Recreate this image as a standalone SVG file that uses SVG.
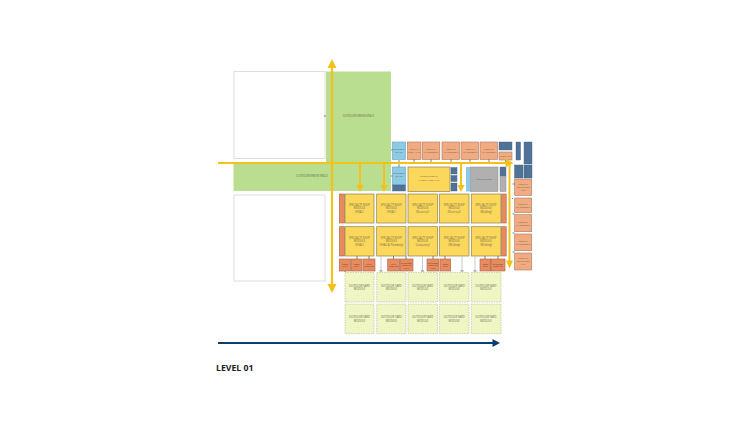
<svg xmlns="http://www.w3.org/2000/svg" width="750" height="423" viewBox="0 0 750 423">
<defs>
<style>
text{font-family:"Open Sans","Noto Sans","Liberation Sans",sans-serif;font-size:2.700px;fill:#6a6a48;text-anchor:middle}
#top-row text,#second-row text,#right-col text{font-size:2.400px}
#small-units text{font-size:2.100px;fill:#5a3a28}
.w{fill:#fff;stroke:#ddd;stroke-width:1}
.g{fill:#b9de8f}
.b{fill:#8ccbe8;stroke:#6d9fb5;stroke-width:.6}
.o{fill:#f2ab80;stroke:#a57a60;stroke-width:.6}
.os{fill:#e88a5e;stroke:#a0654a;stroke-width:.6}
.y{fill:#fbd75b;stroke:#8d8050;stroke-width:.7}
.n{fill:#4f7296;stroke:#3f5f80;stroke-width:.4}
.gr{fill:#b0b0b0;stroke:#888;stroke-width:.5}
.h{fill:#f0f5c4;stroke:#bcc0a0;stroke-width:.7;stroke-dasharray:1.5 1}
.a{stroke:#f2c21a;fill:none}
.ah{fill:#f2c21a}
.t{stroke:#333;stroke-width:.6;fill:none}
.l{stroke:#bbb;stroke-width:.8;fill:none}
</style>
</defs>
<rect width="750" height="423" fill="#fff"/>
<g id="white-1"><rect class="w" x="234" y="71.500" width="91" height="87"/></g>
<g id="white-2"><rect class="w" x="234" y="195" width="91" height="86"/></g>
<g id="green-1"><rect class="g" x="326" y="71.500" width="65" height="91"/><text x="358.500" y="117">OUTDOOR GREEN SPACE</text></g>
<g id="green-2"><rect class="g" x="233.500" y="163" width="157.500" height="28"/><text x="312" y="177">OUTDOOR GREEN SPACE</text></g>

<g id="top-row">
<g id="n1"><rect class="b" x="392.500" y="142" width="13" height="17.500"/><text x="399" y="150"><tspan x="399">OUTDOOR</tspan><tspan x="399" dy="3.200">SPACE</tspan></text></g>
<g id="n2"><rect class="o" x="407.500" y="142" width="13.500" height="17.500"/><text x="414" y="150"><tspan x="414">DIGITAL</tspan><tspan x="414" dy="3.200">MEDIA LAB</tspan></text></g>
<g id="n3"><rect class="o" x="422.300" y="142" width="17.500" height="17.500"/><text x="431" y="150"><tspan x="431">MEDIUM</tspan><tspan x="431" dy="3.200">CLASSROOM</tspan></text></g>
<g id="n4"><rect class="o" x="442" y="142" width="17.500" height="17.500"/><text x="451" y="150"><tspan x="451">MEDIUM</tspan><tspan x="451" dy="3.200">CLASSROOM</tspan></text></g>
<g id="n5"><rect class="o" x="461" y="142" width="17.500" height="17.500"/><text x="470" y="150"><tspan x="470">MEDIUM</tspan><tspan x="470" dy="3.200">CLASSROOM</tspan></text></g>
<g id="n6"><rect class="o" x="480" y="142" width="17.500" height="17.500"/><text x="489" y="150"><tspan x="489">MEDIUM</tspan><tspan x="489" dy="3.200">CLASSROOM</tspan></text></g>
<g id="n7"><rect class="n" x="499" y="142" width="13" height="8"/></g>
<g id="n8"><rect class="o" x="499" y="152" width="13" height="8"/><text x="505.500" y="157">STORAGE</text></g>
</g>

<g id="second-row">
<g id="n9"><rect class="b" x="392.500" y="167" width="13" height="18"/><text x="399" y="174"><tspan x="399">OUTDOOR</tspan><tspan x="399" dy="3.200">SPACE</tspan></text></g>
<g id="n10"><rect class="n" x="392.500" y="185" width="13" height="6"/></g>
<g id="n11"><rect class="y" x="408" y="167" width="42" height="24.500"/><text x="429" y="177"><tspan x="429">INSTRUCTIONAL</tspan><tspan x="429" dy="3.500">FABRICATION LAB</tspan></text></g>
<g id="n12"><rect class="n" x="451" y="167.500" width="6" height="6.500"/></g>
<g id="n13"><rect class="n" x="451" y="175.500" width="6" height="6"/></g>
<g id="n14"><rect class="n" x="451" y="183" width="6" height="8"/></g>
<g id="n15"><rect fill="#8ccbe8" x="466" y="167" width="4.500" height="24.500"/></g>
<g id="n16"><rect class="gr" x="470.500" y="167" width="27.500" height="24.500"/><text x="484" y="180">BIOSCIENCES</text></g>
<g id="n17"><rect class="n" x="500" y="167" width="6" height="9"/></g>
<g id="n18"><rect class="gr" x="500" y="176.500" width="6" height="15"/></g>
</g>

<g id="right-col">
<g id="n19"><rect class="n" x="516" y="142" width="4.500" height="18"/></g>
<g id="n20"><rect class="n" x="524" y="142" width="8" height="22"/></g>
<g id="n21"><rect class="n" x="514.500" y="165" width="8.500" height="13"/></g>
<g id="n22"><rect class="n" x="524" y="165" width="8" height="13"/></g>
<g id="n23"><rect class="o" x="514.700" y="179" width="17" height="16.500"/><text x="523" y="185"><tspan x="523">MEDIUM</tspan><tspan x="523" dy="3.200">COMPUTER</tspan><tspan x="523" dy="3.200">LAB</tspan></text></g>
<g id="n24"><rect class="o" x="514.700" y="198" width="17" height="14.500"/><text x="523" y="204.500"><tspan x="523">MEDIUM</tspan><tspan x="523" dy="3.200">CLASSROOM</tspan></text></g>
<g id="n25"><rect class="o" x="514.700" y="214.700" width="17" height="17"/><text x="523" y="222.500"><tspan x="523">MEDIUM</tspan><tspan x="523" dy="3.200">CLASSROOM</tspan></text></g>
<g id="n26"><rect class="o" x="514.700" y="234" width="17" height="16.700"/><text x="523" y="241.500"><tspan x="523">MEDIUM</tspan><tspan x="523" dy="3.200">CLASSROOM</tspan></text></g>
<g id="n27"><rect class="o" x="514.700" y="253" width="17" height="17"/><text x="523" y="258.500"><tspan x="523">MEDIUM</tspan><tspan x="523" dy="3.200">COMPUTER</tspan><tspan x="523" dy="3.200">LAB</tspan></text></g>
</g>

<g id="strips">
<g id="s1"><rect class="os" x="339.300" y="194" width="5" height="29"/></g>
<g id="s2"><rect class="os" x="339.300" y="226.700" width="5" height="29.300"/></g>
<g id="s3"><rect class="os" x="501.700" y="194" width="4.500" height="29"/></g>
<g id="s4"><rect class="os" x="501.700" y="226.700" width="4.500" height="29.300"/></g>
</g>

<g id="shops">
<g id="m1"><rect class="y" x="345" y="194" width="29" height="29"/><text x="359.500" y="205.500"><tspan x="359.500">SPECIALTY SHOP</tspan><tspan x="359.500" dy="3.800">MODULE</tspan><tspan x="359.500" dy="3.800">(HVAC)</tspan></text></g>
<g id="m2"><rect class="y" x="376.700" y="194" width="29.300" height="29"/><text x="391.300" y="205.500"><tspan x="391.300">SPECIALTY SHOP</tspan><tspan x="391.300" dy="3.800">MODULE</tspan><tspan x="391.300" dy="3.800">(HVAC)</tspan></text></g>
<g id="m3"><rect class="y" x="408" y="194" width="29.500" height="29"/><text x="422.700" y="205.500"><tspan x="422.700">SPECIALTY SHOP</tspan><tspan x="422.700" dy="3.800">MODULE</tspan><tspan x="422.700" dy="3.800">(Electrical)</tspan></text></g>
<g id="m4"><rect class="y" x="439.300" y="194" width="29.700" height="29"/><text x="454.200" y="205.500"><tspan x="454.200">SPECIALTY SHOP</tspan><tspan x="454.200" dy="3.800">MODULE</tspan><tspan x="454.200" dy="3.800">(Electrical)</tspan></text></g>
<g id="m5"><rect class="y" x="471.300" y="194" width="29.700" height="29"/><text x="486" y="205.500"><tspan x="486">SPECIALTY SHOP</tspan><tspan x="486" dy="3.800">MODULE</tspan><tspan x="486" dy="3.800">(Welding)</tspan></text></g>
<g id="m6"><rect class="y" x="345" y="226.700" width="29" height="29.300"/><text x="359.500" y="238.500"><tspan x="359.500">SPECIALTY SHOP</tspan><tspan x="359.500" dy="3.800">MODULE</tspan><tspan x="359.500" dy="3.800">(HVAC)</tspan></text></g>
<g id="m7"><rect class="y" x="376.700" y="226.700" width="29.300" height="29.300"/><text x="391.300" y="238.500"><tspan x="391.300">SPECIALTY SHOP</tspan><tspan x="391.300" dy="3.800">MODULE</tspan><tspan x="391.300" dy="3.800">(HVAC &amp; Plumbing)</tspan></text></g>
<g id="m8"><rect class="y" x="408" y="226.700" width="29.500" height="29.300"/><text x="422.700" y="238.500"><tspan x="422.700">SPECIALTY SHOP</tspan><tspan x="422.700" dy="3.800">MODULE</tspan><tspan x="422.700" dy="3.800">(Carpentry)</tspan></text></g>
<g id="m9"><rect class="y" x="439.300" y="226.700" width="29.700" height="29.300"/><text x="454.200" y="238.500"><tspan x="454.200">SPECIALTY SHOP</tspan><tspan x="454.200" dy="3.800">MODULE</tspan><tspan x="454.200" dy="3.800">(Welding)</tspan></text></g>
<g id="m10"><rect class="y" x="471.300" y="226.700" width="29.700" height="29.300"/><text x="486" y="238.500"><tspan x="486">SPECIALTY SHOP</tspan><tspan x="486" dy="3.800">MODULE</tspan><tspan x="486" dy="3.800">(Welding)</tspan></text></g>
</g>

<g id="small-units">
<g id="u1"><rect class="os" x="339.300" y="259" width="11" height="12"/><text x="345" y="264.500"><tspan x="345">FOOD</tspan><tspan x="345" dy="2.800">UNIT</tspan></text></g>
<g id="u2"><rect class="os" x="351" y="259" width="11" height="12"/><text x="356.500" y="264.500"><tspan x="356.500">FOOD</tspan><tspan x="356.500" dy="2.800">UNIT</tspan></text></g>
<g id="u3"><rect class="os" x="363" y="259" width="12" height="12"/><text x="369" y="264.500"><tspan x="369">UNIT</tspan><tspan x="369" dy="2.800">STORAGE</tspan></text></g>
<g id="u4"><rect class="os" x="387.700" y="259" width="11.600" height="12"/><text x="393.500" y="264.500"><tspan x="393.500">UNIT</tspan><tspan x="393.500" dy="2.800">STORAGE</tspan></text></g>
<g id="u5"><rect class="os" x="400" y="259" width="13" height="12"/><text x="406.500" y="263.500"><tspan x="406.500">OUTDOOR</tspan><tspan x="406.500" dy="2.800">STORAGE</tspan><tspan x="406.500" dy="2.800">UNIT</tspan></text></g>
<g id="u6"><rect class="os" x="427" y="259" width="12" height="12"/><text x="433" y="263.500"><tspan x="433">OUTDOOR</tspan><tspan x="433" dy="2.800">STORAGE</tspan><tspan x="433" dy="2.800">UNIT</tspan></text></g>
<g id="u7"><rect class="os" x="440" y="259" width="10.700" height="12"/><text x="445.300" y="264.500"><tspan x="445.300">FOOD</tspan><tspan x="445.300" dy="2.800">UNIT</tspan></text></g>
<g id="u8"><rect class="os" x="480" y="259" width="10.700" height="12"/><text x="485.300" y="264.500"><tspan x="485.300">FOOD</tspan><tspan x="485.300" dy="2.800">UNIT</tspan></text></g>
<g id="u9"><rect class="os" x="491" y="259" width="14" height="12"/><text x="498" y="264.500"><tspan x="498">OUTDOOR</tspan><tspan x="498" dy="2.800">STORAGE</tspan></text></g>
</g>

<g id="hard-modules">
<g id="h1"><rect class="h" x="345" y="272.500" width="29" height="29.500"/><text x="359.500" y="286.500"><tspan x="359.500">OUTDOOR YARD</tspan><tspan x="359.500" dy="3.800">MODULE</tspan></text></g>
<g id="h2"><rect class="h" x="376.700" y="272.500" width="29.300" height="29.500"/><text x="391.300" y="286.500"><tspan x="391.300">OUTDOOR YARD</tspan><tspan x="391.300" dy="3.800">MODULE</tspan></text></g>
<g id="h3"><rect class="h" x="408" y="272.500" width="29.500" height="29.500"/><text x="422.700" y="286.500"><tspan x="422.700">OUTDOOR YARD</tspan><tspan x="422.700" dy="3.800">MODULE</tspan></text></g>
<g id="h4"><rect class="h" x="439.300" y="272.500" width="29.700" height="29.500"/><text x="454.200" y="286.500"><tspan x="454.200">OUTDOOR YARD</tspan><tspan x="454.200" dy="3.800">MODULE</tspan></text></g>
<g id="h5"><rect class="h" x="471.300" y="272.500" width="29.700" height="29.500"/><text x="486" y="286.500"><tspan x="486">OUTDOOR YARD</tspan><tspan x="486" dy="3.800">MODULE</tspan></text></g>
<g id="h6"><rect class="h" x="345" y="304.200" width="29" height="29.500"/><text x="359.500" y="318"><tspan x="359.500">OUTDOOR YARD</tspan><tspan x="359.500" dy="3.800">MODULE</tspan></text></g>
<g id="h7"><rect class="h" x="376.700" y="304.200" width="29.300" height="29.500"/><text x="391.300" y="318"><tspan x="391.300">OUTDOOR YARD</tspan><tspan x="391.300" dy="3.800">MODULE</tspan></text></g>
<g id="h8"><rect class="h" x="408" y="304.200" width="29.500" height="29.500"/><text x="422.700" y="318"><tspan x="422.700">OUTDOOR YARD</tspan><tspan x="422.700" dy="3.800">MODULE</tspan></text></g>
<g id="h9"><rect class="h" x="439.300" y="304.200" width="29.700" height="29.500"/><text x="454.200" y="318"><tspan x="454.200">OUTDOOR YARD</tspan><tspan x="454.200" dy="3.800">MODULE</tspan></text></g>
<g id="h10"><rect class="h" x="471.300" y="304.200" width="29.700" height="29.500"/><text x="486" y="318"><tspan x="486">OUTDOOR YARD</tspan><tspan x="486" dy="3.800">MODULE</tspan></text></g>
</g>

<g id="connectors">
<path class="l" d="M381 256V271M422.500 256V271M462 256V271M475 256V271"/>
<path class="t" d="M379.500 271H382.500M421 271H424M460.500 271H463.500M473.500 271H476.500"/>
<path class="t" d="M324 116H326M391 150H392.500M391 176H392.500M399 160V167M414 159.500V162M431 159.500V162M451 159.500V162M470 159.500V162M489 159.500V162M505.500 160V162M512.500 198V199M512.500 214H514.700M512.500 233H514.700M512.500 252H514.700M512.500 184H514.700M345 271V272M357 256V259M369 256V259M393.500 256V259M406 256V259M433 256V259M445 256V259M485 256V259M498 256V259"/>
<path class="a" stroke-width="2.200" d="M332 290V66"/>
<path class="ah" d="M332 59L327.500 68H336.500Z M332 293L327.500 284H336.500Z"/>
<path class="a" stroke-width="2.200" d="M218 163H508"/>
<path class="ah" d="M513.500 163L505.500 158.500V167.500Z"/>
<path class="a" stroke-width="2" d="M360 163V187M384 163V187M461 163V186M509.500 163V262"/>
<path class="ah" d="M360 192L356.300 185H363.700Z M384 192L380.300 185H387.700Z M461 192L457.300 185H464.700Z M509.500 268.500L506 260.500H513Z"/>
<path stroke="#0b3d70" stroke-width="1.800" fill="none" d="M218 343H494"/>
<path d="M500 343L492.500 339V347Z" fill="#0b3d70"/>
</g>
<text x="216" y="371" style="font-size:8.700px;font-weight:700;fill:#222;text-anchor:start">LEVEL 01</text>
</svg>
